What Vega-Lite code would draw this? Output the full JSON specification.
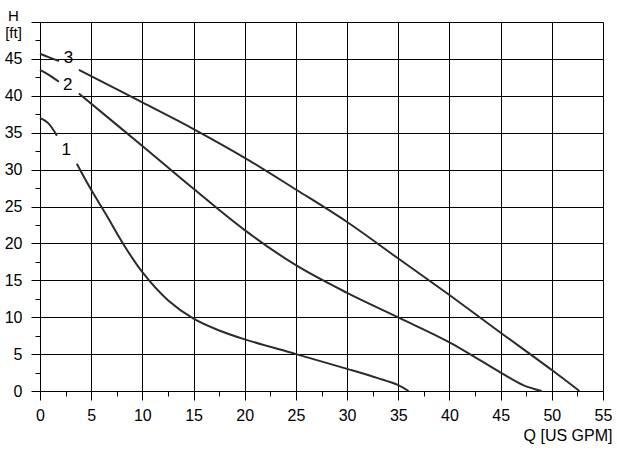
{
  "$schema": "https://vega.github.io/schema/vega-lite/v6.json",
  "autosize": "none",
  "width": 563,
  "height": 369,
  "padding": {"left": 40, "top": 22, "right": 14, "bottom": 60},
  "background": "#ffffff",
  "config": {
    "view": {"stroke": null},
    "font": "Liberation Sans",
    "axis": {
      "grid": true,
      "gridColor": "#000000",
      "gridWidth": 1,
      "gridOpacity": 1,
      "domainColor": "#000000",
      "tickColor": "#000000",
      "tickWidth": 1,
      "labelFont": "Liberation Sans",
      "labelFontSize": 16,
      "labelColor": "#000000",
      "titleFont": "Liberation Sans",
      "titleFontSize": 16,
      "titleFontWeight": "normal",
      "titleColor": "#000000"
    }
  },
  "datasets": {
    "curves": [
      {"curve": "1", "seg": "1a", "q": 0, "h": 37.0},
      {"curve": "1", "seg": "1a", "q": 0.8, "h": 36.3},
      {"curve": "1", "seg": "1a", "q": 1.65, "h": 34.6},
      {"curve": "1", "seg": "1b", "q": 3.6, "h": 30.8},
      {"curve": "1", "seg": "1b", "q": 4.9, "h": 27.5},
      {"curve": "1", "seg": "1b", "q": 6.5, "h": 23.8},
      {"curve": "1", "seg": "1b", "q": 8.1, "h": 20.0},
      {"curve": "1", "seg": "1b", "q": 10, "h": 16.1},
      {"curve": "1", "seg": "1b", "q": 12.5, "h": 12.3},
      {"curve": "1", "seg": "1b", "q": 15, "h": 9.8},
      {"curve": "1", "seg": "1b", "q": 17.5, "h": 8.2},
      {"curve": "1", "seg": "1b", "q": 20, "h": 7.0},
      {"curve": "1", "seg": "1b", "q": 25, "h": 5.0},
      {"curve": "1", "seg": "1b", "q": 30, "h": 3.0},
      {"curve": "1", "seg": "1b", "q": 33, "h": 1.75},
      {"curve": "1", "seg": "1b", "q": 35, "h": 0.8},
      {"curve": "1", "seg": "1b", "q": 36, "h": 0},
      {"curve": "2", "seg": "2a", "q": 0, "h": 43.5},
      {"curve": "2", "seg": "2a", "q": 0.9, "h": 42.8},
      {"curve": "2", "seg": "2a", "q": 1.85, "h": 41.9},
      {"curve": "2", "seg": "2b", "q": 3.8, "h": 40.3},
      {"curve": "2", "seg": "2b", "q": 10, "h": 33.2},
      {"curve": "2", "seg": "2b", "q": 15, "h": 27.4},
      {"curve": "2", "seg": "2b", "q": 20, "h": 21.8},
      {"curve": "2", "seg": "2b", "q": 25, "h": 17.05},
      {"curve": "2", "seg": "2b", "q": 30, "h": 13.3},
      {"curve": "2", "seg": "2b", "q": 35, "h": 9.97},
      {"curve": "2", "seg": "2b", "q": 40, "h": 6.6},
      {"curve": "2", "seg": "2b", "q": 45, "h": 2.5},
      {"curve": "2", "seg": "2b", "q": 47.2, "h": 0.8},
      {"curve": "2", "seg": "2b", "q": 49, "h": 0},
      {"curve": "3", "seg": "3a", "q": 0, "h": 45.7},
      {"curve": "3", "seg": "3a", "q": 0.9, "h": 45.2},
      {"curve": "3", "seg": "3a", "q": 1.85, "h": 44.7},
      {"curve": "3", "seg": "3b", "q": 3.8, "h": 43.5},
      {"curve": "3", "seg": "3b", "q": 10, "h": 39.1},
      {"curve": "3", "seg": "3b", "q": 15, "h": 35.5},
      {"curve": "3", "seg": "3b", "q": 20, "h": 31.6},
      {"curve": "3", "seg": "3b", "q": 25, "h": 27.3},
      {"curve": "3", "seg": "3b", "q": 30, "h": 22.9},
      {"curve": "3", "seg": "3b", "q": 35, "h": 17.95},
      {"curve": "3", "seg": "3b", "q": 40, "h": 13.0},
      {"curve": "3", "seg": "3b", "q": 45, "h": 7.9},
      {"curve": "3", "seg": "3b", "q": 50, "h": 2.84},
      {"curve": "3", "seg": "3b", "q": 52.7, "h": 0}
    ],
    "labels": [
      {"curve": "1", "q": 2.56, "h": 32.6},
      {"curve": "2", "q": 2.72, "h": 41.4},
      {"curve": "3", "q": 2.78, "h": 45.1}
    ]
  },
  "encoding": {
    "x": {
      "field": "q",
      "type": "quantitative",
      "scale": {"domain": [0, 55], "nice": false, "zero": false},
      "axis": {
        "values": [0, 2.5, 5, 7.5, 10, 12.5, 15, 17.5, 20, 22.5, 25, 27.5, 30, 32.5, 35, 37.5, 40, 42.5, 45, 47.5, 50, 52.5, 55],
        "labelExpr": "datum.value % 5 == 0 ? datum.label : ''",
        "tickSize": {"condition": {"test": "datum.value % 5 == 0", "value": 9}, "value": 5},
        "gridOpacity": {"condition": {"test": "datum.value % 5 == 0", "value": 1}, "value": 0},
        "domain": false,
        "labelPadding": 7,
        "labelFlush": false,
        "title": "Q [US GPM]",
        "titleAnchor": "end",
        "titleAlign": "right",
        "titleBaseline": "alphabetic",
        "titleX": 572,
        "titleY": 49
      }
    },
    "y": {
      "field": "h",
      "type": "quantitative",
      "scale": {"domain": [0, 50], "nice": false},
      "axis": {
        "values": [0, 2.5, 5, 7.5, 10, 12.5, 15, 17.5, 20, 22.5, 25, 27.5, 30, 32.5, 35, 37.5, 40, 42.5, 45, 47.5, 50],
        "labelExpr": "datum.value % 5 == 0 && datum.value < 50 ? datum.label : ''",
        "tickSize": {"condition": {"test": "datum.value % 5 == 0", "value": 9}, "value": 5},
        "gridOpacity": {"condition": {"test": "datum.value % 5 == 0", "value": 1}, "value": 0},
        "domain": true,
        "labelPadding": 9,
        "labelFlush": false,
        "title": ["H", "[ft]"],
        "titleFontSize": 15,
        "titleAngle": 0,
        "titleAlign": "center",
        "titleBaseline": "top",
        "titleLineHeight": 17,
        "titleX": -27,
        "titleY": -14
      }
    }
  },
  "layer": [
    {
      "data": {"name": "curves"},
      "mark": {"type": "line", "interpolate": "catmull-rom", "color": "#2b2b2b", "strokeWidth": 2},
      "encoding": {"detail": {"field": "seg", "type": "nominal"}}
    },
    {
      "data": {"name": "labels"},
      "mark": {"type": "text", "fontSize": 17, "font": "Liberation Sans", "color": "#000000", "align": "center", "baseline": "middle"},
      "encoding": {"text": {"field": "curve", "type": "nominal"}}
    }
  ]
}
